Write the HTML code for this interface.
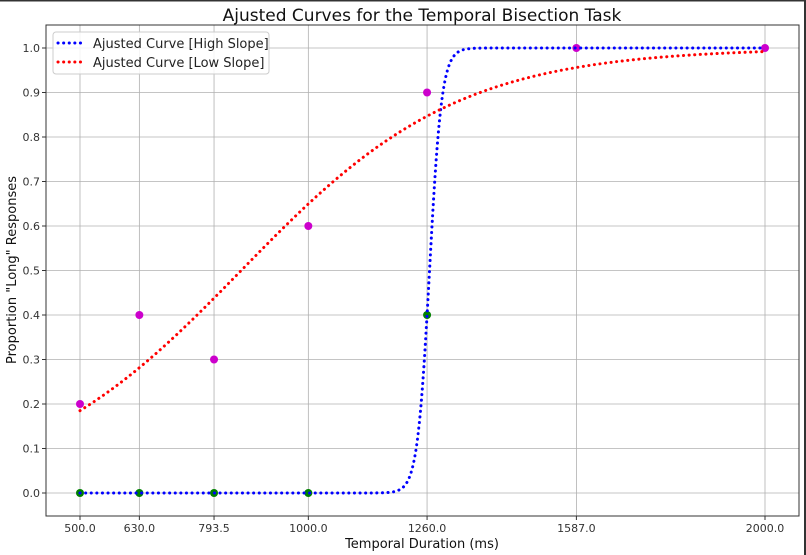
<!DOCTYPE html>
<html><head><meta charset="utf-8"><style>
body{margin:0;background:#fff;}
svg{display:block;font-family:"DejaVu Sans","Liberation Sans",sans-serif;}
</style></head><body>
<svg id="s" width="806" height="555" xmlns="http://www.w3.org/2000/svg">
<rect x="0" y="0" width="806" height="555" fill="#fff"/>
<line x1="0" y1="0.5" x2="806" y2="0.5" stroke="#333" stroke-width="2"/>
<line x1="805" y1="0" x2="805" y2="555" stroke="#333" stroke-width="2"/>
<g id="grid" stroke="#b0b0b0" stroke-width="0.8"></g>
<rect x="46" y="25" width="753" height="491" fill="none" stroke="#333" stroke-width="1"/>
<g id="ticks" font-size="11" fill="#333"></g>
<text x="422" y="21" font-size="17" text-anchor="middle" fill="#111">Ajusted Curves for the Temporal Bisection Task</text>
<text x="422" y="548" font-size="13" text-anchor="middle" fill="#111">Temporal Duration (ms)</text>
<text transform="translate(16,270) rotate(-90)" font-size="13" text-anchor="middle" fill="#111">Proportion "Long" Responses</text>
<g id="pts"></g>
<path id="hi" fill="none" stroke="#0000ff" stroke-width="3" stroke-dasharray="0.1 5.5" stroke-linecap="round"/>
<path id="lo" fill="none" stroke="#ff0000" stroke-width="3" stroke-dasharray="0.1 5.5" stroke-linecap="round"/>
<g>
<rect x="53" y="32" width="216" height="42" fill="#fff" fill-opacity="0.85" stroke="#ccc" rx="3"/>
<line x1="58" y1="43" x2="82" y2="43" stroke="#0000ff" stroke-width="3" stroke-dasharray="0.1 5.5" stroke-linecap="round"/>
<line x1="58" y1="62" x2="82" y2="62" stroke="#ff0000" stroke-width="3" stroke-dasharray="0.1 5.5" stroke-linecap="round"/>
<text x="93" y="48" font-size="13" fill="#222">Ajusted Curve [High Slope]</text>
<text x="93" y="67" font-size="13" fill="#222">Ajusted Curve [Low Slope]</text>
</g>
<script>
var NS="http://www.w3.org/2000/svg";
function X(v){return 80+(v-500)*685/1500;}
function Y(v){return 493-v*445;}
function el(p,t,a,txt){var e=document.createElementNS(NS,t);for(var k in a)e.setAttribute(k,a[k]);if(txt!=null)e.textContent=txt;document.getElementById(p).appendChild(e);}
var xt=[500,630,793.5,1000,1260,1587,2000];
xt.forEach(function(v){var x=X(v);el("grid","line",{x1:x,y1:25,x2:x,y2:516});
el("ticks","line",{x1:x,y1:516,x2:x,y2:520,stroke:"#333"});
el("ticks","text",{x:x,y:532,"text-anchor":"middle"},v.toFixed(1));});
for(var i=0;i<=10;i++){var v=i/10,y=Y(v);el("grid","line",{x1:46,y1:y,x2:799,y2:y});
el("ticks","line",{x1:42,y1:y,x2:46,y2:y,stroke:"#333"});
el("ticks","text",{x:40,y:y+4,"text-anchor":"end"},v.toFixed(1));}
[[500,.2],[630,.4],[793.5,.3],[1000,.6],[1260,.9],[1587,1],[2000,1]].forEach(function(p){el("pts","circle",{cx:X(p[0]),cy:Y(p[1]),r:4,fill:"#cc00cc"});});
[[500,0],[630,0],[793.5,0],[1000,0],[1260,.4]].forEach(function(p){el("pts","circle",{cx:X(p[0]),cy:Y(p[1]),r:4,fill:"#008000"});});
function path(k,x0){var d="";for(var v=500;v<=2000;v+=1){var y=1/(1+Math.exp(-k*(v-x0)));d+=(v==500?"M":"L")+X(v).toFixed(2)+" "+Y(y).toFixed(2);}return d;}
document.getElementById("hi").setAttribute("d",path(0.075,1265.4));
document.getElementById("lo").setAttribute("d",path(0.0042,853));
</script>
</svg>
</body></html>
